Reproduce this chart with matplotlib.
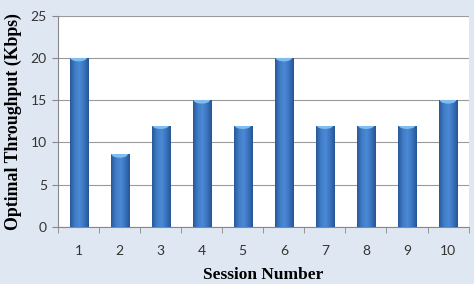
import numpy as np
import matplotlib.pyplot as plt
from matplotlib.colors import LinearSegmentedColormap
from matplotlib.patches import Ellipse

sessions = ['1', '2', '3', '4', '5', '6', '7', '8', '9', '10']
throughput = [20, 8.6, 12, 15, 12, 20, 12, 12, 12, 15]

fig = plt.figure(figsize=(4.74, 2.84), dpi=100)
fig.patch.set_facecolor('#dfe8f2')
ax = fig.add_axes([0.1224, 0.2007, 0.8662, 0.744])
ax.set_facecolor('white')

x = np.arange(len(sessions))
width = 0.44
bars = ax.bar(x, throughput, width=width, color='#3a72c0', edgecolor='#24508c',
              linewidth=0.6, zorder=3)

# horizontal gradient on each bar, plus a light cap on top
cmap = LinearSegmentedColormap.from_list('bar', ['#2a5896', '#3f7cc8', '#4d8ad6', '#3a74bf', '#285491'])
grad = np.linspace(0, 1, 64).reshape(1, -1)
for b in bars:
    bx, by = b.get_x(), b.get_y()
    bw, bh = b.get_width(), b.get_height()
    im = ax.imshow(grad, cmap=cmap, aspect='auto', extent=[bx, bx + bw, by, by + bh],
                   zorder=3.5)
    im.set_clip_path(b)
    cap = Ellipse((bx + bw / 2, by + bh), bw * 0.9, 0.8, facecolor='#80bdf0',
                  edgecolor='none', zorder=4)
    ax.add_patch(cap)
    cap.set_clip_path(b)

ax.set_xlim(-0.5, len(sessions) - 0.5)
ax.set_ylim(0, 25)
ax.set_yticks([0, 5, 10, 15, 20, 25])
ax.set_xticks(x)
ax.set_xticklabels(sessions)
ax.set_xticks(np.arange(-0.5, len(sessions)), minor=True)
ax.tick_params(axis='x', which='major', length=0, pad=13)
ax.tick_params(axis='x', which='minor', length=4, color='#888888', direction='out')
ax.tick_params(axis='y', length=4, color='#888888', direction='out', pad=4)
for lab in ax.get_xticklabels() + ax.get_yticklabels():
    lab.set_fontfamily('Lato')
    lab.set_fontsize(10)
    lab.set_color('#333333')

ax.grid(axis='y', color='#9a9a9a', linewidth=0.8, zorder=0)
ax.set_axisbelow(True)
for s in ['top', 'right']:
    ax.spines[s].set_visible(False)
ax.spines['left'].set_color('#888888')
ax.spines['bottom'].set_color('#888888')

ax.set_xlabel('Session Number', fontfamily='Liberation Serif', fontweight='bold',
              fontsize=12.5, labelpad=7)
ax.set_ylabel('Optimal Throughput (Kbps)', fontfamily='Liberation Serif', fontweight='bold',
              fontsize=12.8, labelpad=6)

fig.savefig('out.png', dpi=100, facecolor=fig.get_facecolor())
